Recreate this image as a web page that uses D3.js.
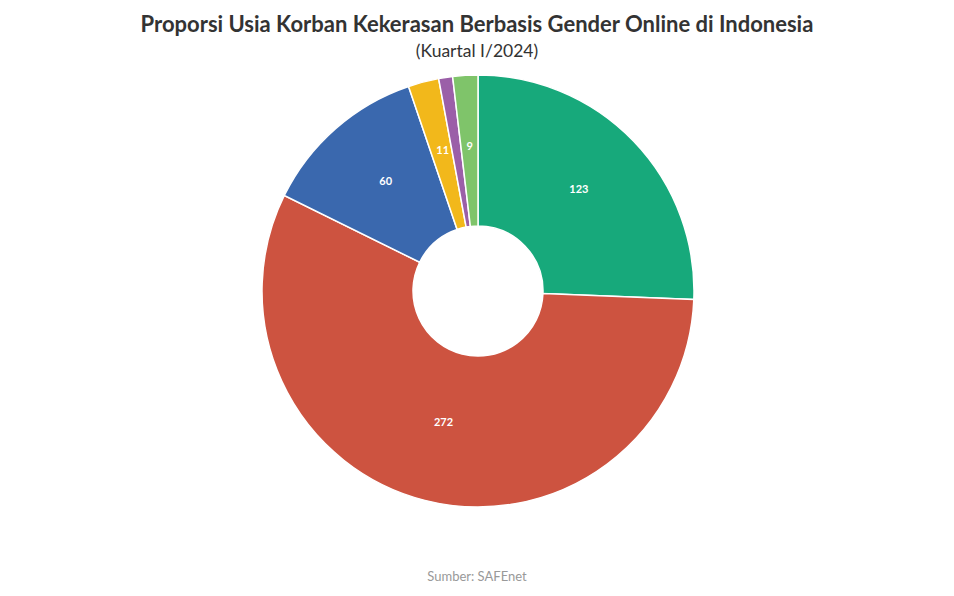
<!DOCTYPE html>
<meta charset="utf-8">
<style>
body { margin: 0; background: #fff; }
text { font-family: Lato, "Noto Sans", sans-serif; }
.title { font-size: 22px; font-weight: bold; fill: #333; }
.subtitle { font-size: 17.5px; fill: #333; }
.source { font-size: 13px; fill: #999; }
.label { font-size: 11px; font-weight: bold; fill: #fff; }
</style>
<svg width="954" height="596"></svg>
<script src="https://d3js.org/d3.v7.min.js"></script>
<script>

// age groups and number of victims
var categories = ["< 18 tahun", "18-25 tahun", "26-35 tahun", "36-45 tahun", "> 45 tahun", "Tidak diketahui"];
var values = [123, 272, 60, 11, 5, 9];
var colors = ["#17a97b", "#cd5340", "#3a68ae", "#f2b81b", "#9b5fa8", "#7fc46a"];

var svg = d3.select("svg"),
    width = +svg.attr("width"),
    height = +svg.attr("height"),
    cx = 478,
    cy = 291,
    outerRadius = 216,
    innerRadius = 65;

svg.append("text")
    .attr("class", "title")
    .attr("x", width / 2)
    .attr("y", 32)
    .attr("text-anchor", "middle")
    .text("Proporsi Usia Korban Kekerasan Berbasis Gender Online di Indonesia");

svg.append("text")
    .attr("class", "subtitle")
    .attr("x", width / 2)
    .attr("y", 57)
    .attr("text-anchor", "middle")
    .text("(Kuartal I/2024)");

svg.append("text")
    .attr("class", "source")
    .attr("x", width / 2)
    .attr("y", 581)
    .attr("text-anchor", "middle")
    .text("Sumber: SAFEnet");

var color = d3.scaleOrdinal()
    .domain(categories)
    .range(colors);

var pie = d3.pie()
    .sort(null)
    .value(function(d) { return d.value; });

var arc = d3.arc()
    .innerRadius(innerRadius)
    .outerRadius(outerRadius);

var labelArc = d3.arc()
    .innerRadius(140)
    .outerRadius(140);

var data = categories.map(function(c, i) { return {name: c, value: values[i]}; });

var g = svg.append("g")
    .attr("transform", "translate(" + cx + "," + cy + ")");

var slice = g.selectAll(".slice")
  .data(pie(data))
  .enter().append("g")
    .attr("class", "slice");

slice.append("path")
    .attr("d", arc)
    .style("fill", function(d) { return color(d.data.name); })
    .style("stroke", "#fff")
    .style("stroke-width", 1.5);

slice.filter(function(d) { return d.data.value >= 9; })
  .append("text")
    .attr("class", "label")
    .attr("transform", function(d) { return "translate(" + labelArc.centroid(d) + ")"; })
    .attr("dy", "-0.1em")
    .attr("text-anchor", "middle")
    .text(function(d) { return d.data.value; });

</script>
